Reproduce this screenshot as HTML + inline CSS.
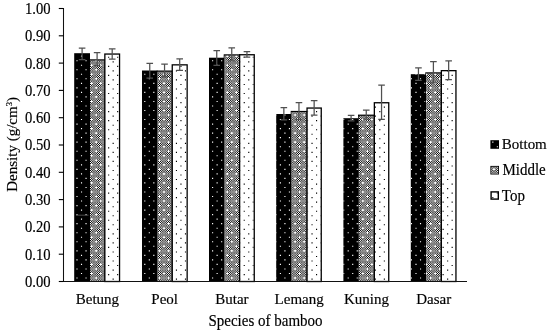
<!DOCTYPE html>
<html><head><meta charset="utf-8"><title>Density of bamboo species</title>
<style>html,body{margin:0;padding:0;background:#fff}svg{display:block}text{font-family:"Liberation Serif",serif;font-size:15px;fill:#000;stroke:#000;stroke-width:.16px}</style></head>
<body>
<svg width="550" height="333" viewBox="0 0 550 333">
<defs>
<clipPath id="cb"><rect x="74.2" y="53.2" width="15.8" height="228.3"/><rect x="142" y="70.5" width="15.5" height="211"/><rect x="209" y="57.7" width="15.5" height="223.8"/><rect x="276.2" y="114" width="15.3" height="167.5"/><rect x="343.4" y="118.2" width="15.4" height="163.3"/><rect x="410.8" y="74.2" width="15.3" height="207.3"/><rect x="490.4" y="140.2" width="8.6" height="8.6"/></clipPath>
<clipPath id="cm"><rect x="90" y="60.6" width="14.2" height="220.9"/><rect x="157.5" y="71.8" width="14.1" height="209.7"/><rect x="224.5" y="55.6" width="14.5" height="225.9"/><rect x="291.5" y="112.2" width="14.9" height="169.3"/><rect x="358.8" y="115.9" width="14.9" height="165.6"/><rect x="426.1" y="73.6" width="14.6" height="207.9"/><rect x="491.3" y="166.8" width="6.8" height="6.8"/></clipPath>
<clipPath id="cw"><rect x="105.5" y="54.7" width="13.4" height="226.8"/><rect x="172.9" y="65.5" width="13.6" height="216"/><rect x="240.3" y="55.4" width="13.3" height="226.1"/><rect x="307.7" y="108.7" width="12.9" height="172.8"/><rect x="375" y="103.4" width="13.1" height="178.1"/><rect x="442" y="71.3" width="13.3" height="210.2"/><rect x="491.8" y="192.6" width="5.8" height="5.8"/></clipPath>
</defs>
<rect width="550" height="333" fill="#fff"/>
<g fill="#000"><rect x="74.2" y="53.2" width="15.8" height="228.3"/><rect x="142" y="70.5" width="15.5" height="211"/><rect x="209" y="57.7" width="15.5" height="223.8"/><rect x="276.2" y="114" width="15.3" height="167.5"/><rect x="343.4" y="118.2" width="15.4" height="163.3"/><rect x="410.8" y="74.2" width="15.3" height="207.3"/><rect x="490.4" y="140.2" width="8.6" height="8.6"/></g>
<path clip-path="url(#cb)" d="M58.355 6.376H505M53.835 10.903H505M58.355 15.43H505M53.835 19.957H505M58.355 24.484H505M53.835 29.011H505M58.355 33.538H505M53.835 38.065H505M58.355 42.592H505M53.835 47.119H505M58.355 51.646H505M53.835 56.173H505M58.355 60.7H505M53.835 65.227H505M58.355 69.754H505M53.835 74.281H505M58.355 78.808H505M53.835 83.335H505M58.355 87.862H505M53.835 92.389H505M58.355 96.916H505M53.835 101.443H505M58.355 105.97H505M53.835 110.497H505M58.355 115.024H505M53.835 119.551H505M58.355 124.078H505M53.835 128.605H505M58.355 133.132H505M53.835 137.659H505M58.355 142.186H505M53.835 146.713H505M58.355 151.24H505M53.835 155.767H505M58.355 160.294H505M53.835 164.821H505M58.355 169.348H505M53.835 173.875H505M58.355 178.402H505M53.835 182.929H505M58.355 187.456H505M53.835 191.983H505M58.355 196.51H505M53.835 201.037H505M58.355 205.564H505M53.835 210.091H505M58.355 214.618H505M53.835 219.145H505M58.355 223.672H505M53.835 228.199H505M58.355 232.726H505M53.835 237.253H505M58.355 241.78H505M53.835 246.307H505M58.355 250.834H505M53.835 255.361H505M58.355 259.888H505M53.835 264.415H505M58.355 268.942H505M53.835 273.469H505M58.355 277.996H505M53.835 282.523H505" stroke="#fff" stroke-width="1.132" stroke-dasharray="1.13 7.91" fill="none"/>
<g fill="#000"><rect x="89.2" y="59.3" width="16.3" height="222.2"/><rect x="156.7" y="70.5" width="16.2" height="211"/><rect x="223.7" y="54.3" width="16.6" height="227.2"/><rect x="290.7" y="110.9" width="17" height="170.6"/><rect x="358" y="114.6" width="17" height="166.9"/><rect x="425.3" y="72.3" width="16.7" height="209.2"/><rect x="490.4" y="165.9" width="8.6" height="8.6"/></g>
<g fill="#fff"><rect x="90" y="60.6" width="14.2" height="220.9"/><rect x="157.5" y="71.8" width="14.1" height="209.7"/><rect x="224.5" y="55.6" width="14.5" height="225.9"/><rect x="291.5" y="112.2" width="14.9" height="169.3"/><rect x="358.8" y="115.9" width="14.9" height="165.6"/><rect x="426.1" y="73.6" width="14.6" height="207.9"/><rect x="491.3" y="166.8" width="6.8" height="6.8"/></g>
<g clip-path="url(#cm)" stroke="#000" stroke-width="1.132" fill="none"><path d="M57.225 8.639H505M57.225 13.166H505M57.225 17.694H505M57.225 22.221H505M57.225 26.748H505M57.225 31.275H505M57.225 35.802H505M57.225 40.329H505M57.225 44.856H505M57.225 49.383H505M57.225 53.91H505M57.225 58.437H505M57.225 62.964H505M57.225 67.49H505M57.225 72.017H505M57.225 76.544H505M57.225 81.072H505M57.225 85.599H505M57.225 90.126H505M57.225 94.653H505M57.225 99.18H505M57.225 103.707H505M57.225 108.234H505M57.225 112.761H505M57.225 117.287H505M57.225 121.815H505M57.225 126.342H505M57.225 130.869H505M57.225 135.395H505M57.225 139.923H505M57.225 144.45H505M57.225 148.976H505M57.225 153.504H505M57.225 158.031H505M57.225 162.558H505M57.225 167.084H505M57.225 171.612H505M57.225 176.139H505M57.225 180.666H505M57.225 185.192H505M57.225 189.719H505M57.225 194.247H505M57.225 198.774H505M57.225 203.3H505M57.225 207.827H505M57.225 212.355H505M57.225 216.882H505M57.225 221.409H505M57.225 225.935H505M57.225 230.463H505M57.225 234.99H505M57.225 239.517H505M57.225 244.043H505M57.225 248.57H505M57.225 253.098H505M57.225 257.625H505M57.225 262.151H505M57.225 266.678H505M57.225 271.206H505M57.225 275.733H505M57.225 280.26H505M57.225 284.786H505M58.355 5.244H505M58.355 7.508H505M58.355 9.771H505M58.355 12.035H505M58.355 14.298H505M58.355 16.562H505M58.355 18.825H505M58.355 21.089H505M58.355 23.352H505M58.355 25.616H505M58.355 27.879H505M58.355 30.143H505M58.355 32.406H505M58.355 34.67H505M58.355 36.933H505M58.355 39.197H505M58.355 41.46H505M58.355 43.724H505M58.355 45.987H505M58.355 48.251H505M58.355 50.514H505M58.355 52.778H505M58.355 55.041H505M58.355 57.305H505M58.355 59.568H505M58.355 61.832H505M58.355 64.095H505M58.355 66.359H505M58.355 68.622H505M58.355 70.886H505M58.355 73.149H505M58.355 75.413H505M58.355 77.676H505M58.355 79.94H505M58.355 82.203H505M58.355 84.467H505M58.355 86.73H505M58.355 88.994H505M58.355 91.257H505M58.355 93.521H505M58.355 95.784H505M58.355 98.048H505M58.355 100.311H505M58.355 102.575H505M58.355 104.838H505M58.355 107.102H505M58.355 109.365H505M58.355 111.629H505M58.355 113.892H505M58.355 116.156H505M58.355 118.419H505M58.355 120.683H505M58.355 122.946H505M58.355 125.21H505M58.355 127.473H505M58.355 129.737H505M58.355 132H505M58.355 134.264H505M58.355 136.527H505M58.355 138.791H505M58.355 141.054H505M58.355 143.318H505M58.355 145.581H505M58.355 147.845H505M58.355 150.108H505M58.355 152.372H505M58.355 154.635H505M58.355 156.899H505M58.355 159.162H505M58.355 161.426H505M58.355 163.689H505M58.355 165.953H505M58.355 168.216H505M58.355 170.48H505M58.355 172.743H505M58.355 175.007H505M58.355 177.27H505M58.355 179.534H505M58.355 181.797H505M58.355 184.061H505M58.355 186.324H505M58.355 188.588H505M58.355 190.851H505M58.355 193.115H505M58.355 195.378H505M58.355 197.642H505M58.355 199.905H505M58.355 202.169H505M58.355 204.432H505M58.355 206.696H505M58.355 208.959H505M58.355 211.223H505M58.355 213.486H505M58.355 215.75H505M58.355 218.013H505M58.355 220.277H505M58.355 222.54H505M58.355 224.804H505M58.355 227.067H505M58.355 229.331H505M58.355 231.594H505M58.355 233.858H505M58.355 236.121H505M58.355 238.385H505M58.355 240.648H505M58.355 242.912H505M58.355 245.175H505M58.355 247.439H505M58.355 249.702H505M58.355 251.966H505M58.355 254.229H505M58.355 256.493H505M58.355 258.756H505M58.355 261.02H505M58.355 263.283H505M58.355 265.547H505M58.355 267.81H505M58.355 270.074H505M58.355 272.337H505M58.355 274.601H505M58.355 276.864H505M58.355 279.128H505M58.355 281.391H505M58.355 283.655H505" stroke-dasharray="1.13 1.13"/><path d="M52.705 6.376H505M57.225 10.903H505M52.705 15.43H505M57.225 19.957H505M52.705 24.484H505M57.225 29.011H505M52.705 33.538H505M57.225 38.065H505M52.705 42.592H505M57.225 47.119H505M52.705 51.646H505M57.225 56.173H505M52.705 60.7H505M57.225 65.227H505M52.705 69.754H505M57.225 74.281H505M52.705 78.808H505M57.225 83.335H505M52.705 87.862H505M57.225 92.389H505M52.705 96.916H505M57.225 101.443H505M52.705 105.97H505M57.225 110.497H505M52.705 115.024H505M57.225 119.551H505M52.705 124.078H505M57.225 128.605H505M52.705 133.132H505M57.225 137.659H505M52.705 142.186H505M57.225 146.713H505M52.705 151.24H505M57.225 155.767H505M52.705 160.294H505M57.225 164.821H505M52.705 169.348H505M57.225 173.875H505M52.705 178.402H505M57.225 182.929H505M52.705 187.456H505M57.225 191.983H505M52.705 196.51H505M57.225 201.037H505M52.705 205.564H505M57.225 210.091H505M52.705 214.618H505M57.225 219.145H505M52.705 223.672H505M57.225 228.199H505M52.705 232.726H505M57.225 237.253H505M52.705 241.78H505M57.225 246.307H505M52.705 250.834H505M57.225 255.361H505M52.705 259.888H505M57.225 264.415H505M52.705 268.942H505M57.225 273.469H505M52.705 277.996H505M57.225 282.523H505" stroke-dasharray="1.13 1.13 1.13 1.13 1.13 3.39"/></g>
<path clip-path="url(#cm)" d="M50.26 6.376H505M54.78 10.903H505M50.26 15.43H505M54.78 19.957H505M50.26 24.484H505M54.78 29.011H505M50.26 33.538H505M54.78 38.065H505M50.26 42.592H505M54.78 47.119H505M50.26 51.646H505M54.78 56.173H505M50.26 60.7H505M54.78 65.227H505M50.26 69.754H505M54.78 74.281H505M50.26 78.808H505M54.78 83.335H505M50.26 87.862H505M54.78 92.389H505M50.26 96.916H505M54.78 101.443H505M50.26 105.97H505M54.78 110.497H505M50.26 115.024H505M54.78 119.551H505M50.26 124.078H505M54.78 128.605H505M50.26 133.132H505M54.78 137.659H505M50.26 142.186H505M54.78 146.713H505M50.26 151.24H505M54.78 155.767H505M50.26 160.294H505M54.78 164.821H505M50.26 169.348H505M54.78 173.875H505M50.26 178.402H505M54.78 182.929H505M50.26 187.456H505M54.78 191.983H505M50.26 196.51H505M54.78 201.037H505M50.26 205.564H505M54.78 210.091H505M50.26 214.618H505M54.78 219.145H505M50.26 223.672H505M54.78 228.199H505M50.26 232.726H505M54.78 237.253H505M50.26 241.78H505M54.78 246.307H505M50.26 250.834H505M54.78 255.361H505M50.26 259.888H505M54.78 264.415H505M50.26 268.942H505M54.78 273.469H505M50.26 277.996H505M54.78 282.523H505" stroke="#fff" stroke-opacity="0.8" stroke-width="1.5" stroke-dasharray="1.5 7.54" fill="none"/>
<rect x="104.85" y="54.05" width="14.7" height="227.45" fill="#fff" stroke="#000" stroke-width="1.3"/><rect x="172.25" y="64.85" width="14.9" height="216.65" fill="#fff" stroke="#000" stroke-width="1.3"/><rect x="239.65" y="54.75" width="14.6" height="226.75" fill="#fff" stroke="#000" stroke-width="1.3"/><rect x="307.05" y="108.05" width="14.2" height="173.45" fill="#fff" stroke="#000" stroke-width="1.3"/><rect x="374.35" y="102.75" width="14.4" height="178.75" fill="#fff" stroke="#000" stroke-width="1.3"/><rect x="441.35" y="70.65" width="14.6" height="210.85" fill="#fff" stroke="#000" stroke-width="1.3"/><rect x="491.1" y="191.9" width="7.2" height="7.2" fill="#fff" stroke="#000" stroke-width="1.4"/>
<path clip-path="url(#cw)" d="M58.355 7.508H505M53.835 12.035H505M58.355 16.562H505M53.835 21.089H505M58.355 25.616H505M53.835 30.143H505M58.355 34.67H505M53.835 39.197H505M58.355 43.724H505M53.835 48.251H505M58.355 52.778H505M53.835 57.305H505M58.355 61.832H505M53.835 66.359H505M58.355 70.886H505M53.835 75.413H505M58.355 79.94H505M53.835 84.467H505M58.355 88.994H505M53.835 93.521H505M58.355 98.048H505M53.835 102.575H505M58.355 107.102H505M53.835 111.629H505M58.355 116.156H505M53.835 120.683H505M58.355 125.21H505M53.835 129.737H505M58.355 134.264H505M53.835 138.791H505M58.355 143.318H505M53.835 147.845H505M58.355 152.372H505M53.835 156.899H505M58.355 161.426H505M53.835 165.953H505M58.355 170.48H505M53.835 175.007H505M58.355 179.534H505M53.835 184.061H505M58.355 188.588H505M53.835 193.115H505M58.355 197.642H505M53.835 202.169H505M58.355 206.696H505M53.835 211.223H505M58.355 215.75H505M53.835 220.277H505M58.355 224.804H505M53.835 229.331H505M58.355 233.858H505M53.835 238.385H505M58.355 242.912H505M53.835 247.439H505M58.355 251.966H505M53.835 256.493H505M58.355 261.02H505M53.835 265.547H505M58.355 270.074H505M53.835 274.601H505M58.355 279.128H505M53.835 283.655H505" stroke="#000" stroke-width="1.132" stroke-dasharray="1.13 7.91" fill="none"/>
<path d="M76 215.2H88.5" stroke="#4a4a4a" stroke-width="1"/>
<path d="M82.1 47.9V59.7M78.8 48.05H85.4M78.8 59.55H85.4" stroke="#505050" stroke-width="1.25" fill="none"/><path d="M97.1 52.5V65.7M93.8 52.65H100.4M93.8 65.55H100.4" stroke="#505050" stroke-width="1.25" fill="none"/><path d="M112.2 48.7V59.3M108.9 48.85H115.5M108.9 59.15H115.5" stroke="#505050" stroke-width="1.25" fill="none"/>
<path d="M149.75 63.3V78.2M146.45 63.45H153.05M146.45 78.05H153.05" stroke="#505050" stroke-width="1.25" fill="none"/><path d="M164.55 63.9V77.1M161.25 64.05H167.85M161.25 76.95H167.85" stroke="#505050" stroke-width="1.25" fill="none"/><path d="M179.7 58.8V70.5M176.4 58.95H183M176.4 70.35H183" stroke="#505050" stroke-width="1.25" fill="none"/>
<path d="M216.75 50.5V65.5M213.45 50.65H220.05M213.45 65.35H220.05" stroke="#505050" stroke-width="1.25" fill="none"/><path d="M231.75 47.7V60.9M228.45 47.85H235.05M228.45 60.75H235.05" stroke="#505050" stroke-width="1.25" fill="none"/><path d="M246.95 51.5V57.3M243.65 51.65H250.25M243.65 57.15H250.25" stroke="#505050" stroke-width="1.25" fill="none"/>
<path d="M283.85 107.5V120M280.55 107.65H287.15M280.55 119.85H287.15" stroke="#505050" stroke-width="1.25" fill="none"/><path d="M298.95 102.4V119.8M295.65 102.55H302.25M295.65 119.65H302.25" stroke="#505050" stroke-width="1.25" fill="none"/><path d="M314.15 100.5V115.2M310.85 100.65H317.45M310.85 115.05H317.45" stroke="#505050" stroke-width="1.25" fill="none"/>
<path d="M351.1 115.3V121M347.8 115.45H354.4M347.8 120.85H354.4" stroke="#505050" stroke-width="1.25" fill="none"/><path d="M366.25 109.9V119.3M362.95 110.05H369.55M362.95 119.15H369.55" stroke="#505050" stroke-width="1.25" fill="none"/><path d="M381.55 84.9V119.4M378.25 85.05H384.85M378.25 119.25H384.85" stroke="#505050" stroke-width="1.25" fill="none"/>
<path d="M418.45 67.6V80.5M415.15 67.75H421.75M415.15 80.35H421.75" stroke="#505050" stroke-width="1.25" fill="none"/><path d="M433.4 61.5V83.1M430.1 61.65H436.7M430.1 82.95H436.7" stroke="#505050" stroke-width="1.25" fill="none"/><path d="M448.65 60.6V79.7M445.35 60.75H451.95M445.35 79.55H451.95" stroke="#505050" stroke-width="1.25" fill="none"/>
<path d="M63.5 8V281.5H467" stroke="#111" stroke-width="1.05" fill="none"/>
<path d="M58.8 281.5H63.5" stroke="#000" stroke-width="1.1"/><text transform="translate(50.5 286.9) scale(0.975 1.075)" text-anchor="end">0.00</text>
<path d="M58.8 254.2H63.5" stroke="#000" stroke-width="1.1"/><text transform="translate(50.5 259.6) scale(0.975 1.075)" text-anchor="end">0.10</text>
<path d="M58.8 226.9H63.5" stroke="#000" stroke-width="1.1"/><text transform="translate(50.5 232.3) scale(0.975 1.075)" text-anchor="end">0.20</text>
<path d="M58.8 199.6H63.5" stroke="#000" stroke-width="1.1"/><text transform="translate(50.5 205) scale(0.975 1.075)" text-anchor="end">0.30</text>
<path d="M58.8 172.3H63.5" stroke="#000" stroke-width="1.1"/><text transform="translate(50.5 177.7) scale(0.975 1.075)" text-anchor="end">0.40</text>
<path d="M58.8 145H63.5" stroke="#000" stroke-width="1.1"/><text transform="translate(50.5 150.4) scale(0.975 1.075)" text-anchor="end">0.50</text>
<path d="M58.8 117.7H63.5" stroke="#000" stroke-width="1.1"/><text transform="translate(50.5 123.1) scale(0.975 1.075)" text-anchor="end">0.60</text>
<path d="M58.8 90.4H63.5" stroke="#000" stroke-width="1.1"/><text transform="translate(50.5 95.8) scale(0.975 1.075)" text-anchor="end">0.70</text>
<path d="M58.8 63.1H63.5" stroke="#000" stroke-width="1.1"/><text transform="translate(50.5 68.5) scale(0.975 1.075)" text-anchor="end">0.80</text>
<path d="M58.8 35.8H63.5" stroke="#000" stroke-width="1.1"/><text transform="translate(50.5 41.2) scale(0.975 1.075)" text-anchor="end">0.90</text>
<path d="M58.8 8.5H63.5" stroke="#000" stroke-width="1.1"/><text transform="translate(50.5 13.9) scale(0.975 1.075)" text-anchor="end">1.00</text>
<text transform="translate(97.42 303.9) scale(1 1)" text-anchor="middle">Betung</text>
<text transform="translate(164.68 303.9) scale(1 1)" text-anchor="middle">Peol</text>
<text transform="translate(231.93 303.9) scale(1 1)" text-anchor="middle">Butar</text>
<text transform="translate(299.18 303.9) scale(1 1)" text-anchor="middle">Lemang</text>
<text transform="translate(366.43 303.9) scale(1 1)" text-anchor="middle">Kuning</text>
<text transform="translate(433.68 303.9) scale(1 1)" text-anchor="middle">Dasar</text>
<text transform="translate(265.5 325.8) scale(1 1.045)" text-anchor="middle">Species of bamboo</text>
<text transform="translate(17 144.4) rotate(-90)" text-anchor="middle">Density (g/cm<tspan font-size="8.5" dy="-5.2">3</tspan><tspan dy="5.2">)</tspan></text>
<text transform="translate(501.8 149.4) scale(1 1.03)">Bottom</text>
<text transform="translate(502.5 174.8) scale(1 1.05)">Middle</text>
<text transform="translate(501.8 200.5) scale(1 1.07)">Top</text>
</svg>
</body></html>
